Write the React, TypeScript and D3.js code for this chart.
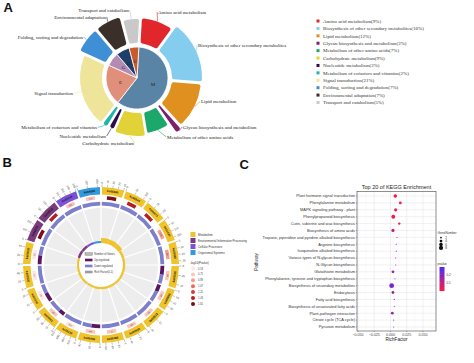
import React from "react";
import * as d3 from "d3";

// ---------------- Panel A: KEGG classification (nested pie)
const aTerms = [
  "Amino acid metabolism",
  "Biosynthesis of other secondary metabolites",
  "Lipid metabolism",
  "Glycan biosynthesis and metabolism",
  "Metabolism of other amino acids",
  "Carbohydrate metabolism",
  "Nucleotide metabolism",
  "Metabolism of cofactors and vitamins",
  "Signal transduction",
  "Folding, sorting and degradation",
  "Environmental adaptation",
  "Transport and catabolism",
];
const aPercent = [9, 16, 12, 2, 7, 9, 2, 2, 21, 7, 7, 5];
const aColors = [
  "#e2272c", "#84cdee", "#e0901f", "#7c1f6e", "#1ba86a", "#e1d337",
  "#2b0c4b", "#22b2ad", "#eee59a", "#3f8fd6", "#3b2f29", "#c9c9c9",
];
const aGroups = ["M", "E", "G", "O", "C"];
const aGroupPercent = [59, 21, 7, 7, 5];
const aGroupColors = ["#5a84a6", "#e08f7a", "#b38ab4", "#1f3f6b", "#c85b2a"];

// ---------------- Panel B: circular enrichment plot
const bPathways = [
  "ko00360", "ko00940", "ko00073", "ko01230", "ko00960", "ko00220", "ko00950", "ko00513",
  "ko00510", "ko00480", "ko00400", "ko01110", "ko00061", "ko01040", "ko00020", "ko00620",
  "ko04075", "ko04016", "ko04144", "ko04626",
];
const bCategory = [
  "Metabolism", "Metabolism", "Metabolism", "Metabolism", "Metabolism", "Metabolism",
  "Metabolism", "Metabolism", "Metabolism", "Metabolism", "Metabolism", "Metabolism",
  "Metabolism", "Metabolism", "Metabolism", "Metabolism",
  "Environmental Information Processing", "Environmental Information Processing",
  "Cellular Processes", "Organismal Systems",
];
const bCategoryNames = [
  "Metabolism", "Environmental Information Processing", "Cellular Processes", "Organismal Systems",
];
const bCategoryColors = ["#f0c22b", "#7a3b7e", "#7b52d6", "#3299dc"];
const bGenes = [41, 118, 26, 175, 35, 48, 38, 22, 49, 72, 46, 812, 39, 25, 57, 52, 265, 148, 201, 226];
const bLog10P = [1.62, 1.49, 1.35, 0.92, 0.81, 0.76, 0.74, 0.7, 0.68, 0.66, 0.65, 0.59, 0.63, 0.61, 0.6, 0.58, 1.75, 1.41, 0.64, 0.62];
const bUp = [0, 0, 0, 0, 0, 3, 2, 0, 0, 0, 2, 0, 1, 2, 0, 2, 0, 0, 0, 0];
const bDown = [4, 3, 2, 5, 1, 3, 3, 1, 1, 4, 2, 10, 2, 2, 1, 2, 6, 5, 4, 4];
const bRich = [0.42, 0.4, 0.36, 0.14, 0.12, 0.12, 0.11, 0.1, 0.1, 0.12, 0.1, 0.08, 0.1, 0.1, 0.09, 0.09, 0.14, 0.12, 0.1, 0.1];
const bPColors = ["#fde6e3", "#fbc4bd", "#f59b90", "#ec6a5c", "#dc3b33", "#b81e22", "#7e0d12"];
const bPBreaks = ["0.53", "0.71", "0.89", "1.07", "1.25", "1.43", "1.61"];
const bInnerLegend = ["Number of Genes", "Up-regulated", "Down-regulated", "Rich Factor(0-1)"];
const bInnerLegendColors = ["#b9b9b9", "#5a1660", "#7c7fcc", "#9a9a9a"];

// ---------------- Panel C: KEGG enrichment bubble plot
const cPathways = [
  "Plant hormone signal transduction",
  "Phenylalanine metabolism",
  "MAPK signaling pathway - plant",
  "Phenylpropanoid biosynthesis",
  "Cutin, suberine and wax biosynthesis",
  "Biosynthesis of amino acids",
  "Tropane, piperidine and pyridine alkaloid biosynthesis",
  "Arginine biosynthesis",
  "Isoquinoline alkaloid biosynthesis",
  "Various types of N-glycan biosynthesis",
  "N-Glycan biosynthesis",
  "Glutathione metabolism",
  "Phenylalanine, tyrosine and tryptophan biosynthesis",
  "Biosynthesis of secondary metabolites",
  "Endocytosis",
  "Fatty acid biosynthesis",
  "Biosynthesis of unsaturated fatty acids",
  "Plant-pathogen interaction",
  "Citrate cycle (TCA cycle)",
  "Pyruvate metabolism",
];
const cRichFactor = [0.0074, 0.0151, 0.008, 0.0043, 0.0135, 0.0038, 0.01, 0.0089, 0.0089, 0.008, 0.008, 0.0038, 0.0069, 0.0018, 0.0038, 0.0058, 0.0058, 0.0028, 0.0049, 0.0049];
const cGeneNumber = [6, 4, 5, 7, 3, 5, 1, 1, 1, 1, 1, 4, 1, 10, 4, 1, 1, 4, 1, 1];
const cPvalue = [0.02, 0.015, 0.03, 0.025, 0.04, 0.1, 0.17, 0.18, 0.18, 0.19, 0.19, 0.15, 0.2, 0.22, 0.16, 0.2, 0.2, 0.18, 0.21, 0.21];
const cXTicks = [-0.05, -0.025, 0, 0.025, 0.05];
const cSizeBreaks = [2, 4, 6, 8];
const cPvalueBreaks = [0.2, 0.1];

const SERIF = "'Liberation Serif', 'DejaVu Serif', serif";
const SANS = "'Liberation Sans', Arial, sans-serif";

const polar = (cx: number, cy: number, r: number, a: number): [number, number] => [
  cx + r * Math.sin(a),
  cy - r * Math.cos(a),
];
const toDeg = (a: number) => (a * 180) / Math.PI;

function PanelA() {
  const cx = 137;
  const cy = 78;
  const start = 0.06;
  const pie = d3.pie<number>().sort(null).startAngle(start).endAngle(start + 2 * Math.PI);
  const outer = pie(aPercent);
  const inner = pie(aGroupPercent);

  // how far each exploded slice reaches
  const reach = [60, 65, 64, 67, 56, 58, 56, 57, 57, 63, 63, 59];
  // label placement (x, baseline, anchor)
  const labelPos: [number, number, string][] = [
    [158, 13.5, "start"],
    [198, 46.5, "start"],
    [201, 103, "start"],
    [183, 128.5, "start"],
    [167, 138.5, "start"],
    [134, 145, "end"],
    [106, 137.5, "end"],
    [97, 129, "end"],
    [73, 95, "end"],
    [83, 38.5, "end"],
    [106, 18.5, "end"],
    [129, 11.5, "end"],
  ];

  const innerArc = d3.arc<d3.PieArcDatum<number>>().innerRadius(0).outerRadius(31);
  const labelArc = d3.arc<d3.PieArcDatum<number>>().innerRadius(17).outerRadius(17);

  const legendY = d3.scalePoint<string>().domain(aTerms).range([21, 102.5]);

  return (
    <g>
      {outer.map((d, i) => {
        const arc = d3
          .arc<d3.PieArcDatum<number>>()
          .innerRadius(35)
          .outerRadius(reach[i])
          .padAngle(0.04)
          .cornerRadius(2);
        const mid = (d.startAngle + d.endAngle) / 2;
        const [ex, ey] = polar(cx, cy, reach[i] + 0.5, mid);
        const [lx, ly, anchor] = labelPos[i];
        const ax = anchor === "start" ? lx - 0.8 : lx + 0.8;
        return (
          <g key={aTerms[i]}>
            <path d={arc(d) || ""} transform={`translate(${cx},${cy})`} fill={aColors[i]} />
            <line x1={ex} y1={ey} x2={ax} y2={ly - 1.6} stroke={aColors[i]} strokeWidth={0.6} />
            <text x={lx} y={ly} fontSize={5} fontFamily={SERIF} fill="#222" textAnchor={anchor}>
              {aTerms[i]}
            </text>
          </g>
        );
      })}
      {inner.map((d, i) => {
        const [tx, ty] = labelArc.centroid(d);
        return (
          <g key={aGroups[i]} transform={`translate(${cx},${cy})`}>
            <path d={innerArc(d) || ""} fill={aGroupColors[i]} stroke="#fff" strokeWidth={0.8} />
            <text x={tx} y={ty + 1.6} fontSize={5} fontFamily={SERIF} fill="#222" textAnchor="middle">
              {aGroups[i]}
            </text>
          </g>
        );
      })}
      {aTerms.map((t, i) => (
        <g key={t} transform={`translate(316.5,${legendY(t)})`}>
          <rect x={0} y={-1.5} width={3} height={3} fill={aColors[i]} />
          <text x={6.5} y={1.7} fontSize={5} fontFamily={SERIF} fill="#333">
            {`${t}(${aPercent[i]}%)`}
          </text>
        </g>
      ))}
    </g>
  );
}

function PanelB() {
  const cx = 101;
  const cy = 265;
  const band = d3.scaleBand<string>().domain(bPathways).range([0, 2 * Math.PI]).paddingInner(0.08).paddingOuter(0.04);
  const catColor = d3.scaleOrdinal<string, string>().domain(bCategoryNames).range(bCategoryColors);
  const pColor = d3
    .scaleQuantize<string>()
    .domain([0.44, 1.7])
    .range(bPColors);
  const ringArc = d3.arc<any>();
  const bw = band.bandwidth();

  return (
    <g>
      {/* grey track */}
      <path
        d={ringArc({ innerRadius: 22, outerRadius: 57, startAngle: 0, endAngle: 2 * Math.PI }) || ""}
        transform={`translate(${cx},${cy})`}
        fill="#ededed"
      />
      {bPathways.map((p) => {
        const a = band(p)! - band.step() * 0.04;
        const [x1, y1] = polar(cx, cy, 22, a);
        const [x2, y2] = polar(cx, cy, 57, a);
        return <line key={p} x1={x1} y1={y1} x2={x2} y2={y2} stroke="#fff" strokeWidth={1.2} />;
      })}
      {bPathways.map((p, i) => {
        const s = band(p)!;
        const e = s + bw;
        const mid = (s + e) / 2;
        const md = toDeg(mid);
        const col = catColor(bCategory[i]);
        const total = bUp[i] + bDown[i];
        const upEnd = s + (bw * bUp[i]) / total;
        const boxHalf = bw * 0.24;
        const [bx, by] = polar(cx, cy, 74.3, mid);
        const [px, py] = polar(cx, cy, 67.3, mid);
        const flip = md > 90 && md < 270;
        const tangRot = flip ? md + 180 : md;
        const tickScale = d3.scaleLinear().domain([0, bGenes[i]]).range([s, e]);
        const ticks = tickScale.ticks(3);
        return (
          <g key={p}>
            <path
              d={ringArc({ innerRadius: 70.5, outerRadius: 78, startAngle: s, endAngle: e }) || ""}
              transform={`translate(${cx},${cy})`}
              fill={col}
            />
            <text
              x={bx}
              y={by}
              transform={`rotate(${tangRot},${bx},${by})`}
              fontSize={2.9}
              fontWeight="bold"
              fontFamily={SANS}
              fill="#111"
              textAnchor="middle"
              dominantBaseline="central"
            >
              {p}
            </text>
            {ticks.map((t) => {
              const ta = tickScale(t);
              const tdeg = toDeg(ta);
              const [t1x, t1y] = polar(cx, cy, 78, ta);
              const [t2x, t2y] = polar(cx, cy, 80.5, ta);
              const [lx, ly] = polar(cx, cy, 81.5, ta);
              const right = tdeg < 180;
              return (
                <g key={t}>
                  <line x1={t1x} y1={t1y} x2={t2x} y2={t2y} stroke="#555" strokeWidth={0.35} />
                  <text
                    x={lx}
                    y={ly}
                    transform={`rotate(${right ? tdeg - 90 : tdeg + 90},${lx},${ly})`}
                    fontSize={2.8}
                    fontFamily={SANS}
                    fill="#444"
                    textAnchor={right ? "start" : "end"}
                    dominantBaseline="central"
                  >
                    {t}
                  </text>
                </g>
              );
            })}
            <path
              d={ringArc({ innerRadius: 65.5, outerRadius: 69, startAngle: mid - boxHalf, endAngle: mid + boxHalf }) || ""}
              transform={`translate(${cx},${cy})`}
              fill={pColor(bLog10P[i])}
            />
            <text
              x={px}
              y={py}
              transform={`rotate(${tangRot},${px},${py})`}
              fontSize={2.3}
              fontFamily={SANS}
              fill="#7a2a2a"
              textAnchor="middle"
              dominantBaseline="central"
            >
              {bGenes[i]}
            </text>
            {bUp[i] > 0 && (
              <path
                d={ringArc({ innerRadius: 59.5, outerRadius: 63.3, startAngle: s, endAngle: upEnd }) || ""}
                transform={`translate(${cx},${cy})`}
                fill="#5a1660"
              />
            )}
            <path
              d={ringArc({ innerRadius: 59.5, outerRadius: 63.3, startAngle: upEnd, endAngle: e }) || ""}
              transform={`translate(${cx},${cy})`}
              fill="#7c7fcc"
            />
            <path
              d={ringArc({ innerRadius: 22, outerRadius: 22 + 1.2 + bRich[i] * 9, startAngle: s - band.step() * 0.04, endAngle: e + band.step() * 0.04 }) || ""}
              transform={`translate(${cx},${cy})`}
              fill={col}
            />
          </g>
        );
      })}
      {/* centre legend */}
      {bInnerLegend.map((t, i) => (
        <g key={t} transform={`translate(85,${254 + i * 6})`}>
          <rect x={0} y={-1.3} width={7.5} height={2.6} fill={bInnerLegendColors[i]} stroke={i === 0 ? "#555" : "none"} strokeWidth={0.3} />
          <text x={9.3} y={0.9} fontSize={2.6} fontFamily={SANS} fill="#333">
            {t}
          </text>
        </g>
      ))}
      {/* right legend */}
      {bCategoryNames.map((t, i) => (
        <g key={t} transform={`translate(190.5,${232 + i * 6})`}>
          <rect x={0} y={0} width={5} height={5} fill={bCategoryColors[i]} />
          <text x={7.5} y={3.6} fontSize={2.9} fontFamily={SANS} fill="#333">
            {t}
          </text>
        </g>
      ))}
      <text x={190} y={264} fontSize={2.9} fontFamily={SANS} fill="#333">
        -log10(Pvalue)
      </text>
      {bPBreaks.map((t, i) => (
        <g key={t} transform={`translate(193,${268.5 + i * 5.9})`}>
          <circle r={2} fill={bPColors[i]} />
          <text x={5} y={1} fontSize={2.6} fontFamily={SANS} fill="#444">
            {t}
          </text>
        </g>
      ))}
    </g>
  );
}

function PanelC() {
  const left = 357;
  const right = 436;
  const top = 191.5;
  const bottom = 331;
  const x = d3.scaleLinear().domain([-0.0515, 0.07]).range([left, right]);
  const y = d3.scalePoint<string>().domain(cPathways).range([196, 327]);
  const r = d3.scaleSqrt().domain([1, 10]).range([0.55, 2.4]);
  const col = d3.scaleLinear<string>().domain([0, 0.29]).range(["#ff1a3c", "#4b2bff"]).interpolate(d3.interpolateRgb);
  const minor = d3.range(-0.0375, 0.07, 0.025);
  const py = d3.scaleLinear().domain([0, 0.29]).range([291, 267]);
  const stops = d3.range(0, 1.01, 0.1);

  return (
    <g>
      <defs>
        <linearGradient id="pgrad" x1="0" y1="1" x2="0" y2="0">
          {stops.map((s) => (
            <stop key={s} offset={s} stopColor={col(s * 0.29)} />
          ))}
        </linearGradient>
      </defs>
      <text x={(left + right) / 2} y={189} fontSize={5.5} fontFamily={SANS} fill="#222" textAnchor="middle">
        Top 20 of KEGG Enrichment
      </text>
      <rect x={left} y={top} width={right - left} height={bottom - top} fill="#fff" />
      {minor.map((v) => (
        <line key={`mn${v}`} x1={x(v)} x2={x(v)} y1={top} y2={bottom} stroke="#f2f2f2" strokeWidth={0.3} />
      ))}
      {cXTicks.map((v) => (
        <line key={`mj${v}`} x1={x(v)} x2={x(v)} y1={top} y2={bottom} stroke="#e2e2e2" strokeWidth={0.5} />
      ))}
      {cPathways.map((p) => (
        <line key={`h${p}`} x1={left} x2={right} y1={y(p)} y2={y(p)} stroke="#e2e2e2" strokeWidth={0.5} />
      ))}
      {cPathways.map((p, i) => (
        <circle key={`c${p}`} cx={x(cRichFactor[i])} cy={y(p)} r={r(cGeneNumber[i])} fill={col(cPvalue[i])} />
      ))}
      <rect x={left} y={top} width={right - left} height={bottom - top} fill="none" stroke="#444" strokeWidth={0.6} />
      {cPathways.map((p) => (
        <g key={`l${p}`}>
          <line x1={left - 1.2} x2={left} y1={y(p)} y2={y(p)} stroke="#444" strokeWidth={0.4} />
          <text x={left - 2} y={y(p)! + 1.3} fontSize={3.9} fontFamily={SANS} fill="#333" textAnchor="end">
            {p}
          </text>
        </g>
      ))}
      {cXTicks.map((v) => (
        <g key={`t${v}`}>
          <line x1={x(v)} x2={x(v)} y1={bottom} y2={bottom + 1.2} stroke="#444" strokeWidth={0.4} />
          <text x={x(v)} y={336} fontSize={3.6} fontFamily={SANS} fill="#444" textAnchor="middle">
            {d3.format(".3f")(v)}
          </text>
        </g>
      ))}
      <text x={(left + right) / 2} y={340.8} fontSize={4.6} fontFamily={SANS} fill="#222" textAnchor="middle">
        RichFactor
      </text>
      <text x={257.5} y={262} fontSize={4.6} fontFamily={SANS} fill="#222" textAnchor="middle" transform="rotate(-90,257.5,262)">
        Pathway
      </text>
      {/* size legend */}
      <text x={437.5} y={234} fontSize={3.2} fontFamily={SANS} fill="#333">
        GeneNumber
      </text>
      {cSizeBreaks.map((v, i) => (
        <g key={`s${v}`} transform={`translate(441,${237.6 + i * 3.45})`}>
          <circle r={r(v)} fill="#111" />
          <text x={4.2} y={1.1} fontSize={3.1} fontFamily={SANS} fill="#333">
            {v}
          </text>
        </g>
      ))}
      {/* p value legend */}
      <text x={437.5} y={264.5} fontSize={3.2} fontFamily={SANS} fill="#333">
        pvalue
      </text>
      <rect x={439.5} y={267} width={5} height={24} fill="url(#pgrad)" />
      {cPvalueBreaks.map((v) => (
        <g key={`p${v}`}>
          <line x1={439.5} x2={440.5} y1={py(v)} y2={py(v)} stroke="#fff" strokeWidth={0.3} />
          <text x={446.5} y={py(v) + 1.1} fontSize={3.1} fontFamily={SANS} fill="#333">
            {v}
          </text>
        </g>
      ))}
    </g>
  );
}

export default function App() {
  return (
    <svg
      width={474}
      height={363}
      viewBox="0 0 474 363"
      style={{ position: "absolute", left: 0, top: 0, background: "#fff" }}
    >
      <rect width={474} height={363} fill="#fff" />
      <PanelA />
      <PanelB />
      <PanelC />
      <text x={3.5} y={12} fontSize={13} fontWeight="bold" fontFamily={SANS} fill="#111">
        A
      </text>
      <text x={2.5} y={166.8} fontSize={13} fontWeight="bold" fontFamily={SANS} fill="#111">
        B
      </text>
      <text x={239.5} y={169.3} fontSize={13} fontWeight="bold" fontFamily={SANS} fill="#111">
        C
      </text>
    </svg>
  );
}
